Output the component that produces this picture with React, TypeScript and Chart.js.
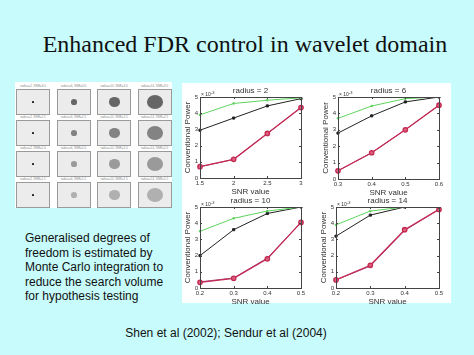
import React, { useEffect, useRef } from "react";
import { Chart, registerables } from "chart.js";
Chart.register(...registerables);

const BG = "#c8fcfc";

// Power curves (x 10^-3) per radius panel
const snrR2 = ["1.5", "2", "2.5", "3"];
const snrR6 = ["0.3", "0.4", "0.5", "0.6"];
const snrR10 = ["0.2", "0.3", "0.4", "0.5"];
const snrR14 = ["0.2", "0.3", "0.4", "0.5"];

const greenR2 = [3.9, 4.6, 4.8, 4.95];
const blackR2 = [2.95, 3.7, 4.45, 4.9];
const redR2 = [0.7, 1.15, 2.75, 4.35];
const purpleR2 = [0.7, 1.15, 2.75, 4.35];

const greenR6 = [3.7, 4.45, 4.9, 5.0];
const blackR6 = [2.8, 3.85, 4.7, 5.0];
const redR6 = [0.5, 1.6, 3.0, 4.5];
const purpleR6 = [0.5, 1.6, 3.0, 4.5];

const greenR10 = [3.5, 4.3, 4.75, 5.0];
const blackR10 = [2.0, 3.6, 4.6, 5.0];
const redR10 = [0.35, 0.6, 1.8, 4.05];
const purpleR10 = [0.38, 0.62, 1.85, 4.05];

const greenR14 = [3.9, 4.75, 5.0, 5.0];
const blackR14 = [3.2, 4.5, 5.0, 5.0];
const redR14 = [0.5, 1.4, 3.6, 4.85];
const purpleR14 = [0.5, 1.35, 3.55, 4.85];

const yTicks = [0, 1, 2, 3, 4, 5];

// Thumbnail grid
const thumbRadii = [2, 6, 10, 14];
const thumbDiam = [2, 6, 11, 16];
const thumbShades = [
  ["#111", "#666", "#666", "#666"],
  ["#111", "#838383", "#838383", "#838383"],
  ["#111", "#9a9a9a", "#9a9a9a", "#9a9a9a"],
  ["#111", "#b0b0b0", "#b0b0b0", "#b0b0b0"],
];
const thumbSnr = ["3.0", "2.5", "2.0", "1.5"];

const bodyLines = [
  "Generalised degrees of",
  "freedom is estimated by",
  "Monte Carlo integration to",
  "reduce the search volume",
  "for hypothesis testing",
];

const SANS = "Arial, 'Liberation Sans', sans-serif";

type PanelProps = {
  title: string;
  labels: string[];
  green: number[];
  black: number[];
  red: number[];
  purple: number[];
  left: number;
  top: number;
  h: number;
  yw: number;
  padRight: number;
  xh: number;
};

function Panel(p: PanelProps) {
  const ref = useRef<HTMLCanvasElement | null>(null);
  useEffect(() => {
    if (!ref.current) return;
    const frame = {
      id: "frame",
      afterDraw(chart: any) {
        const { ctx, chartArea: a } = chart;
        ctx.save();
        ctx.strokeStyle = "#444";
        ctx.lineWidth = 1;
        ctx.strokeRect(Math.round(a.left) + 0.5, Math.round(a.top) + 0.5, Math.round(a.right - a.left), Math.round(a.bottom - a.top));
        const xs = chart.scales.x;
        const ys = chart.scales.y;
        ctx.beginPath();
        xs.ticks.forEach((_: any, i: number) => {
          const x = Math.round(xs.getPixelForTick(i)) + 0.5;
          ctx.moveTo(x, a.bottom);
          ctx.lineTo(x, a.bottom - 2);
          ctx.moveTo(x, a.top);
          ctx.lineTo(x, a.top + 2);
        });
        ys.ticks.forEach((_: any, i: number) => {
          const y = Math.round(ys.getPixelForTick(i)) + 0.5;
          ctx.moveTo(a.left, y);
          ctx.lineTo(a.left + 2, y);
          ctx.moveTo(a.right, y);
          ctx.lineTo(a.right - 2, y);
        });
        ctx.stroke();
        ctx.fillStyle = "#333";
        ctx.font = "8px " + SANS;
        ctx.textAlign = "center";
        ctx.textBaseline = "alphabetic";
        ctx.fillText(p.title, (a.left + a.right) / 2, a.top - 4);
        ctx.fillText("SNR value", (a.left + a.right) / 2, a.bottom + 16);
        ctx.save();
        ctx.translate(a.left - 10, (a.top + a.bottom) / 2);
        ctx.rotate(-Math.PI / 2);
        ctx.fillText("Conventional Power", 0, 0);
        ctx.restore();
        ctx.textAlign = "left";
        ctx.font = "5px " + SANS;
        ctx.fillText("\u00d7 10", a.left + 1, a.top - 1.5);
        ctx.font = "4px " + SANS;
        ctx.fillText("-3", a.left + 11, a.top - 3.5);
        ctx.restore();
      },
    };
    const chart = new Chart(ref.current, {
      type: "line",
      data: {
        labels: p.labels,
        datasets: [
          { data: p.green, borderColor: "#5fd35f", backgroundColor: "#5fd35f", borderWidth: 1, pointRadius: 1, pointStyle: "rect" },
          { data: p.black, borderColor: "#222", backgroundColor: "#222", borderWidth: 1, pointRadius: 1.5, pointStyle: "rect" },
          { data: p.red, borderColor: "#c42a52", backgroundColor: "#de5f80", borderWidth: 1.3, pointRadius: 2.2, pointStyle: "circle", pointBorderColor: "#c42a52" },
          { data: p.purple, borderColor: "#861c68", backgroundColor: "#b63a82", borderWidth: 0.8, pointRadius: 1.5, pointStyle: "rect" },
        ],
      },
      options: {
        animation: false,
        responsive: false,
        layout: { padding: { top: 14, right: p.padRight, left: 0, bottom: 0 } },
        plugins: { legend: { display: false }, tooltip: { enabled: false }, title: { display: false } },
        scales: {
          x: {
            type: "category",
            offset: false,
            grid: { display: false, drawTicks: false },
            border: { display: false },
            ticks: { font: { size: 6, family: SANS }, color: "#333", padding: 2, maxRotation: 0, autoSkip: false },
            title: { display: false },
            afterFit: (s: any) => { s.height = p.xh; },
          },
          y: {
            min: 0,
            max: 5,
            grid: { display: false, drawTicks: false },
            border: { display: false },
            afterBuildTicks: (s: any) => { s.ticks = yTicks.map((v) => ({ value: v })); },
            ticks: { font: { size: 6, family: SANS }, color: "#333", padding: 2 },
            title: { display: false },
            afterFit: (s: any) => { s.width = p.yw; },
          },
        },
      },
      plugins: [frame],
    });
    return () => chart.destroy();
  }, []);
  return (
    <canvas
      ref={ref}
      width={130}
      height={p.h}
      style={{ position: "absolute", left: p.left, top: p.top, width: 130, height: p.h }}
    />
  );
}

export default function App() {
  return (
    <div style={{ position: "absolute", left: 0, top: 0, width: 474, height: 355, background: BG, overflow: "hidden", fontFamily: SANS }}>
      <div style={{ position: "absolute", left: 0, width: 490, top: 30, textAlign: "center", fontFamily: "\"Liberation Serif\", \"Times New Roman\", Times, \"DejaVu Serif\", serif", fontSize: 24, lineHeight: "28px", color: "#111", whiteSpace: "nowrap" }}>
        Enhanced FDR control in wavelet domain
      </div>

      {/* thumbnails */}
      <div style={{ position: "absolute", left: 15, top: 82, width: 157, height: 126, background: "#fff" }}>
        {thumbShades.map((row, r) =>
          row.map((shade, c) => (
            <div key={r + "-" + c} style={{ position: "absolute", left: 1 + c * 40.5, top: 2 + r * 31, width: 34, height: 29 }}>
              <div style={{ position: "absolute", left: 0, top: 0, width: 34, height: 4, fontSize: 3, lineHeight: "4px", textAlign: "center", color: "#888", whiteSpace: "nowrap" }}>
                {"radius=" + thumbRadii[c] + ", SNR=" + thumbSnr[r]}
              </div>
              <div style={{ position: "absolute", left: 0, top: 5, width: 32, height: 24, background: "#ececec", border: "1px solid #9a9a9a" }}>
                <div style={{ position: "absolute", left: 16 - thumbDiam[c] / 2, top: 12 - (thumbDiam[c] * 0.85) / 2, width: thumbDiam[c], height: thumbDiam[c] * 0.85, borderRadius: "50%", background: shade }} />
              </div>
            </div>
          ))
        )}
      </div>

      {/* plot panel */}
      <div style={{ position: "absolute", left: 182, top: 83, width: 269, height: 220, background: "#fff" }} />
      <Panel title="radius = 10" labels={snrR10} green={greenR10} black={blackR10} red={redR10} purple={purpleR10} left={182} top={193} h={116} yw={18} padRight={11} xh={21} />
      <Panel title="radius = 14" labels={snrR14} green={greenR14} black={blackR14} red={redR14} purple={purpleR14} left={318} top={193} h={116} yw={18} padRight={9} xh={21} />
      <Panel title="radius = 2" labels={snrR2} green={greenR2} black={blackR2} red={redR2} purple={purpleR2} left={182} top={83} h={116} yw={18} padRight={11} xh={21} />
      <Panel title="radius = 6" labels={snrR6} green={greenR6} black={blackR6} red={redR6} purple={purpleR6} left={318} top={83} h={116} yw={20} padRight={9} xh={20} />

      <div style={{ position: "absolute", left: 25, top: 231, fontSize: 12, lineHeight: "14.5px", color: "#111", whiteSpace: "nowrap" }}>
        {bodyLines.map((l, i) => (
          <div key={i}>{l}</div>
        ))}
      </div>

      <div style={{ position: "absolute", left: 0, width: 452, top: 325, textAlign: "center", fontSize: 12, lineHeight: "16px", color: "#111", whiteSpace: "nowrap" }}>
        Shen et al (2002); Sendur et al (2004)
      </div>
    </div>
  );
}
